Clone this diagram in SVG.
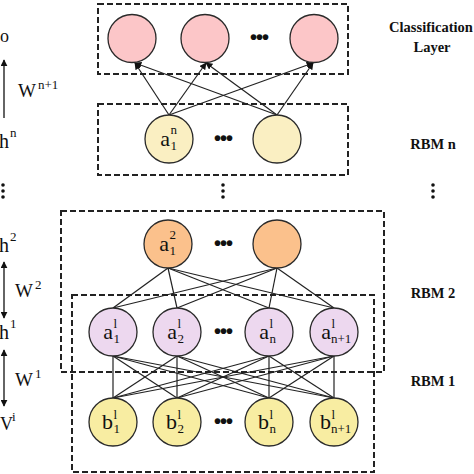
<svg xmlns="http://www.w3.org/2000/svg" width="474" height="474" viewBox="0 0 474 474">
<style>
.box{fill:none;stroke:#222;stroke-width:2;stroke-dasharray:6 3}
.n{stroke:#2a2a2a;stroke-width:1.3}
.pink{fill:#fcc6c8}.ly{fill:#faefc2}.or{fill:#fbc18c}.pu{fill:#edd8ef}.ye{fill:#f8eda2}
.t{font-family:"Liberation Serif",serif;fill:#111}
.b{font-size:22px}
.s{font-size:13px}
.lbl{font-family:"Liberation Serif",serif;font-weight:bold;font-size:14.5px;fill:#111;text-anchor:middle}
.dots{font-family:"Liberation Sans",sans-serif;font-weight:bold;font-size:20px;fill:#111;text-anchor:middle;letter-spacing:-1px}
.c line{stroke:#222;stroke-width:1.2}
.side{font-family:"Liberation Serif",serif;fill:#111}
</style>
<defs>
<marker id="ah" viewBox="0 0 10 10" refX="9" refY="5" markerWidth="7" markerHeight="7" orient="auto-start-reverse" markerUnits="userSpaceOnUse">
<path d="M0,0 L10,5 L0,10 z" fill="#111"/>
</marker>
</defs>

<g id="boxes">
<rect class="box" x="98" y="4" width="250" height="70"/>
<rect class="box" x="98" y="104" width="250" height="71"/>
<rect class="box" x="61" y="211" width="323" height="161"/>
<rect class="box" x="72" y="295" width="302" height="177"/>
</g>

<g id="connectors" class="c">
<line x1="169" y1="115" x2="135" y2="63" marker-end="url(#ah)"/>
<line x1="169" y1="115" x2="206" y2="63" marker-end="url(#ah)"/>
<line x1="169" y1="115" x2="313" y2="63" marker-end="url(#ah)"/>
<line x1="277" y1="115" x2="135" y2="63" marker-end="url(#ah)"/>
<line x1="277" y1="115" x2="206" y2="63" marker-end="url(#ah)"/>
<line x1="277" y1="115" x2="313" y2="63" marker-end="url(#ah)"/>

<line x1="168" y1="268" x2="113" y2="308"/>
<line x1="168" y1="268" x2="177" y2="308"/>
<line x1="168" y1="268" x2="269" y2="308"/>
<line x1="168" y1="268" x2="334" y2="308"/>
<line x1="277" y1="268" x2="113" y2="308"/>
<line x1="277" y1="268" x2="177" y2="308"/>
<line x1="277" y1="268" x2="269" y2="308"/>
<line x1="277" y1="268" x2="334" y2="308"/>

<line x1="113" y1="356" x2="113" y2="398"/>
<line x1="113" y1="356" x2="177" y2="398"/>
<line x1="113" y1="356" x2="269" y2="398"/>
<line x1="113" y1="356" x2="334" y2="398"/>
<line x1="177" y1="356" x2="113" y2="398"/>
<line x1="177" y1="356" x2="177" y2="398"/>
<line x1="177" y1="356" x2="269" y2="398"/>
<line x1="177" y1="356" x2="334" y2="398"/>
<line x1="269" y1="356" x2="113" y2="398"/>
<line x1="269" y1="356" x2="177" y2="398"/>
<line x1="269" y1="356" x2="269" y2="398"/>
<line x1="269" y1="356" x2="334" y2="398"/>
<line x1="334" y1="356" x2="113" y2="398"/>
<line x1="334" y1="356" x2="177" y2="398"/>
<line x1="334" y1="356" x2="269" y2="398"/>
<line x1="334" y1="356" x2="334" y2="398"/>
</g>

<g id="class-layer">
<circle class="n pink" cx="132" cy="38.5" r="24"/>
<circle class="n pink" cx="205" cy="38.5" r="24"/>
<circle class="n pink" cx="314" cy="38.5" r="24"/>
<text class="dots" x="259" y="44">•••</text>
</g>

<g id="rbm-n">
<circle class="n ly" cx="169" cy="139" r="24"/>
<text class="t b" x="170" y="146" text-anchor="end">a</text>
<text class="t s" x="170.5" y="134">n</text>
<text class="t s" x="170.5" y="150">1</text>
<circle class="n ly" cx="277" cy="139" r="24"/>
<text class="dots" x="223" y="145">•••</text>
</g>

<g id="vdots">
<circle cx="3" cy="185" r="1.8" fill="#111"/><circle cx="3" cy="191" r="1.8" fill="#111"/><circle cx="3" cy="197" r="1.8" fill="#111"/>
<circle cx="223" cy="185" r="1.8" fill="#111"/><circle cx="223" cy="191" r="1.8" fill="#111"/><circle cx="223" cy="197" r="1.8" fill="#111"/>
<circle cx="433" cy="185" r="1.8" fill="#111"/><circle cx="433" cy="191" r="1.8" fill="#111"/><circle cx="433" cy="197" r="1.8" fill="#111"/>
</g>

<g id="rbm-2">
<circle class="n or" cx="168" cy="244" r="24"/>
<text class="t b" x="169" y="251" text-anchor="end">a</text>
<text class="t s" x="169.5" y="239">2</text>
<text class="t s" x="169.5" y="255">1</text>
<circle class="n or" cx="277" cy="244" r="24"/>
<text class="dots" x="223" y="250">•••</text>
</g>

<g id="rbm-1-hidden">
<circle class="n pu" cx="113" cy="332" r="24"/>
<text class="t b" x="113" y="339" text-anchor="end">a</text>
<text class="t s" x="113.5" y="328">l</text>
<text class="t s" x="113.5" y="343">1</text>
<circle class="n pu" cx="177" cy="332" r="24"/>
<text class="t b" x="177" y="339" text-anchor="end">a</text>
<text class="t s" x="177.5" y="328">l</text>
<text class="t s" x="177.5" y="343">2</text>
<text class="dots" x="223" y="338">•••</text>
<circle class="n pu" cx="269" cy="332" r="24"/>
<text class="t b" x="269" y="339" text-anchor="end">a</text>
<text class="t s" x="269.5" y="328">l</text>
<text class="t s" x="269.5" y="343">n</text>
<circle class="n pu" cx="334" cy="332" r="24"/>
<text class="t b" x="331" y="339" text-anchor="end">a</text>
<text class="t s" x="331.5" y="328">l</text>
<text class="t s" x="331" y="343" font-size="12.5">n+1</text>
</g>

<g id="rbm-1-visible">
<circle class="n ye" cx="113" cy="422" r="24"/>
<text class="t b" x="113" y="429" text-anchor="end">b</text>
<text class="t s" x="113.5" y="419">l</text>
<text class="t s" x="113.5" y="433">1</text>
<circle class="n ye" cx="177" cy="422" r="24"/>
<text class="t b" x="177" y="429" text-anchor="end">b</text>
<text class="t s" x="177.5" y="419">l</text>
<text class="t s" x="177.5" y="433">2</text>
<text class="dots" x="223" y="428">•••</text>
<circle class="n ye" cx="269" cy="422" r="24"/>
<text class="t b" x="269" y="429" text-anchor="end">b</text>
<text class="t s" x="269.5" y="419">l</text>
<text class="t s" x="269.5" y="433">n</text>
<circle class="n ye" cx="334" cy="422" r="24"/>
<text class="t b" x="331" y="429" text-anchor="end">b</text>
<text class="t s" x="331.5" y="419">l</text>
<text class="t s" x="331" y="433" font-size="12.5">n+1</text>
</g>

<g id="right-labels">
<text class="lbl" x="431" y="32">Classification</text>
<text class="lbl" x="432" y="52">Layer</text>
<text class="lbl" x="433" y="149">RBM n</text>
<text class="lbl" x="433" y="298">RBM 2</text>
<text class="lbl" x="433" y="386">RBM 1</text>
</g>

<g id="left-labels">
<text class="side" x="0" y="42" font-size="18">o</text>
<line x1="4" y1="118" x2="4" y2="60" stroke="#111" stroke-width="1.3" marker-end="url(#ah)"/>
<text class="side" x="18" y="97" font-size="19">W</text>
<text class="side" x="38" y="89" font-size="13">n+1</text>
<text class="side" x="-1" y="148" font-size="20">h</text>
<text class="side" x="10" y="137" font-size="13">n</text>

<text class="side" x="-1" y="252" font-size="20">h</text>
<text class="side" x="10" y="241" font-size="13">2</text>
<line x1="4" y1="262" x2="4" y2="318" stroke="#111" stroke-width="1.3" marker-start="url(#ah)" marker-end="url(#ah)"/>
<text class="side" x="15" y="297" font-size="19">W</text>
<text class="side" x="35" y="289" font-size="13">2</text>
<text class="side" x="-1" y="339" font-size="20">h</text>
<text class="side" x="10" y="328" font-size="13">1</text>
<line x1="4" y1="350" x2="4" y2="406" stroke="#111" stroke-width="1.3" marker-start="url(#ah)" marker-end="url(#ah)"/>
<text class="side" x="15" y="386" font-size="19">W</text>
<text class="side" x="35" y="378" font-size="13">1</text>
<text class="side" x="0" y="430" font-size="18">V</text>
<text class="side" x="12" y="421" font-size="13">i</text>
</g>
</svg>
